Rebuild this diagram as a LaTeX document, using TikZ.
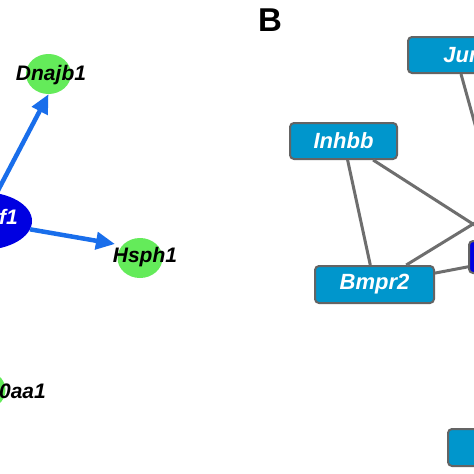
\documentclass[tikz,border=0pt]{standalone}
\usepackage{fontspec}
\setmainfont{Liberation Sans}
\usetikzlibrary{shapes.geometric,arrows.meta}
\definecolor{genegreen}{RGB}{100,235,90}
\definecolor{hubblue}{RGB}{0,0,225}
\definecolor{arrblue}{RGB}{25,110,235}
\definecolor{boxfill}{RGB}{0,150,204}
\definecolor{boxline}{RGB}{100,100,100}
\definecolor{edgegray}{RGB}{110,110,110}
\tikzset{
  gene/.style={ellipse, fill=genegreen, draw=none, inner sep=0pt, minimum width=45pt, minimum height=40pt},
  hub/.style={ellipse, fill=hubblue, draw=none, inner sep=0pt, minimum width=100pt, minimum height=58pt},
  genetext/.style={font=\fontsize{21}{21}\selectfont\bfseries\itshape, text=black, inner sep=0pt},
  hubtext/.style={font=\fontsize{21}{21}\selectfont\bfseries\itshape, text=white, inner sep=0pt},
  pbox/.style={rectangle, rounded corners=4pt, fill=boxfill, draw=boxline, line width=2pt,
     minimum height=36pt, inner sep=0pt, text=white, font=\fontsize{22}{22}\selectfont\bfseries\itshape},
  dbox/.style={pbox, fill=hubblue},
  regarrow/.style={draw=arrblue, line width=4.5pt, -{Triangle[length=19pt,width=17pt]}},
  ppiedge/.style={draw=edgegray, line width=3pt},
  panel/.style={font=\fontsize{33}{33}\selectfont\bfseries, inner sep=0pt}
}
\begin{document}
\begin{tikzpicture}[x=1pt,y=-1pt]
\useasboundingbox (0,0) rectangle (474,474);
\clip (0,0) rectangle (474,474);
\fill[white] (0,0) rectangle (474,474);

% ---- Panel A (left) ----
\node[hub] (hsf) at (-18,221) {};
\node[hubtext, anchor=east] (hsftext) at (18,217) {f1};
\node[gene] (dnajb) at (48.5,74) {};
\node[genetext] (dnajbtext) at (51,75) {Dnajb1};
\node[gene] (hsph) at (140,258) {};
\node[genetext] (hsphtext) at (145,257) {Hsph1};
\node[gene] (hsp90) at (-17,390) {};
\node[genetext, anchor=east] (hsp90text) at (46,391) {0aa1};

\draw[regarrow] (hsf) -- (dnajb.south);
\draw[regarrow] (hsf) -- ([xshift=-6pt,yshift=3pt]hsph.150);

% ---- Panel B (right) ----
\node[panel, anchor=north west] (lblB) at (258,9) {B};

\coordinate (offA) at (540,267);
\coordinate (offB) at (540,183);
\coordinate (offC) at (496,200);

\node[pbox, minimum width=107pt] (inhbb) at (343.5,141) {Inhbb};
\node[pbox, minimum width=119pt, minimum height=37pt] (bmpr2) at (374.5,284.5) {Bmpr2};
\node[pbox, minimum width=110pt] (jun) at (463,55) {Jun};
\node[dbox, minimum width=102pt, minimum height=32pt] (darkbox) at (520,257) {};
\node[pbox, minimum width=124pt, minimum height=37pt] (lowbox) at (510,447.5) {};

\draw[ppiedge] (inhbb) -- (bmpr2);
\draw[ppiedge] (inhbb) -- (offA);
\draw[ppiedge] (bmpr2) -- (offB);
\draw[ppiedge] (bmpr2) -- (darkbox);
\draw[ppiedge] ([xshift=-2pt]jun.south) -- (offC);
\end{tikzpicture}
\end{document}
